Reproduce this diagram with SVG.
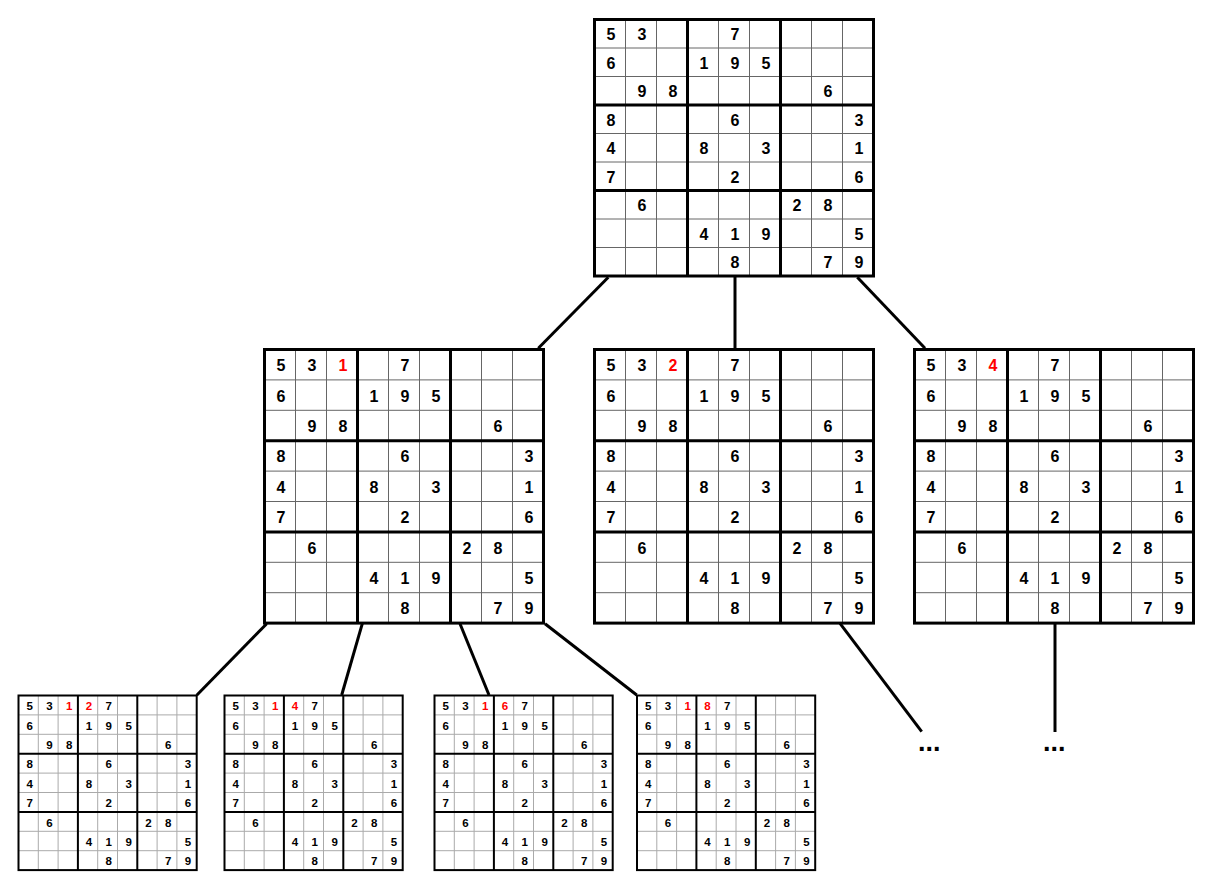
<svg xmlns="http://www.w3.org/2000/svg" width="1217" height="891" viewBox="0 0 1217 891">
<style>
.bg{fill:#fff}
.thin{stroke:#666;stroke-width:1;fill:none}
.thick{stroke:#000;stroke-width:3;fill:none}
.outer{stroke:#000;stroke-width:3;fill:none}
.sthin{stroke:#aaa;stroke-width:1;fill:none}
.sthick{stroke:#000;stroke-width:2;fill:none}
.conn{stroke:#000;stroke-width:3;fill:none}
text{font-family:"Liberation Sans",Arial,sans-serif;font-weight:bold;text-anchor:middle;fill:#000}
.b text{font-size:16px}
.s text{font-size:11.5px}
text.r{fill:#f00}
.dots{font-size:27px}
</style>
<rect width="1217" height="891" fill="#fff"/>
<g id="connectors">
<path class="conn" d="M608.3,277.3 L538.3,348.3"/>
<path class="conn" d="M735,277 L735,349"/>
<path class="conn" d="M857.3,277.3 L925,348.3"/>
<path class="conn" d="M266.7,623.7 L196.7,695.3"/>
<path class="conn" d="M362.3,623.7 L341.7,695"/>
<path class="conn" d="M460,623.7 L489,695"/>
<path class="conn" d="M545,623.7 L636.7,695"/>
<path class="conn" d="M840,623.3 L921.7,731.7"/>
<path class="conn" d="M1055,623.3 L1055,732"/>
</g>
<g id="root" class="b" transform="translate(594.5,19.5)">
<rect class="bg" width="279" height="256.5"/>
<path class="thin" d="M31,0V256.5M62,0V256.5M124,0V256.5M155,0V256.5M217,0V256.5M248,0V256.5M0,28.5H279M0,57H279M0,114H279M0,142.5H279M0,199.5H279M0,228H279"/>
<path class="thick" d="M93,0V256.5M186,0V256.5M0,85.5H279M0,171H279"/>
<rect class="outer" width="279" height="256.5"/>
<text x="16.5" y="20.8">5</text><text x="47.5" y="20.8">3</text><text x="140.5" y="20.8">7</text>
<text x="16.5" y="49.3">6</text><text x="109.5" y="49.3">1</text><text x="140.5" y="49.3">9</text><text x="171.5" y="49.3">5</text>
<text x="47.5" y="77.8">9</text><text x="78.5" y="77.8">8</text><text x="233.5" y="77.8">6</text>
<text x="16.5" y="106.3">8</text><text x="140.5" y="106.3">6</text><text x="264.5" y="106.3">3</text>
<text x="16.5" y="134.8">4</text><text x="109.5" y="134.8">8</text><text x="171.5" y="134.8">3</text><text x="264.5" y="134.8">1</text>
<text x="16.5" y="163.3">7</text><text x="140.5" y="163.3">2</text><text x="264.5" y="163.3">6</text>
<text x="47.5" y="191.8">6</text><text x="202.5" y="191.8">2</text><text x="233.5" y="191.8">8</text>
<text x="109.5" y="220.3">4</text><text x="140.5" y="220.3">1</text><text x="171.5" y="220.3">9</text><text x="264.5" y="220.3">5</text>
<text x="140.5" y="248.8">8</text><text x="233.5" y="248.8">7</text><text x="264.5" y="248.8">9</text>
</g>
<g id="mid-1" class="b" transform="translate(264.5,349.5)">
<rect class="bg" width="279" height="273.6"/>
<path class="thin" d="M31,0V273.6M62,0V273.6M124,0V273.6M155,0V273.6M217,0V273.6M248,0V273.6M0,30.4H279M0,60.8H279M0,121.6H279M0,152H279M0,212.8H279M0,243.2H279"/>
<path class="thick" d="M93,0V273.6M186,0V273.6M0,91.2H279M0,182.4H279"/>
<rect class="outer" width="279" height="273.6"/>
<text x="16.5" y="21.7">5</text><text x="47.5" y="21.7">3</text><text class="r" x="78.5" y="21.7">1</text><text x="140.5" y="21.7">7</text>
<text x="16.5" y="52.1">6</text><text x="109.5" y="52.1">1</text><text x="140.5" y="52.1">9</text><text x="171.5" y="52.1">5</text>
<text x="47.5" y="82.5">9</text><text x="78.5" y="82.5">8</text><text x="233.5" y="82.5">6</text>
<text x="16.5" y="112.9">8</text><text x="140.5" y="112.9">6</text><text x="264.5" y="112.9">3</text>
<text x="16.5" y="143.3">4</text><text x="109.5" y="143.3">8</text><text x="171.5" y="143.3">3</text><text x="264.5" y="143.3">1</text>
<text x="16.5" y="173.7">7</text><text x="140.5" y="173.7">2</text><text x="264.5" y="173.7">6</text>
<text x="47.5" y="204.1">6</text><text x="202.5" y="204.1">2</text><text x="233.5" y="204.1">8</text>
<text x="109.5" y="234.5">4</text><text x="140.5" y="234.5">1</text><text x="171.5" y="234.5">9</text><text x="264.5" y="234.5">5</text>
<text x="140.5" y="264.9">8</text><text x="233.5" y="264.9">7</text><text x="264.5" y="264.9">9</text>
</g>
<g id="mid-2" class="b" transform="translate(594.5,349.5)">
<rect class="bg" width="279" height="273.6"/>
<path class="thin" d="M31,0V273.6M62,0V273.6M124,0V273.6M155,0V273.6M217,0V273.6M248,0V273.6M0,30.4H279M0,60.8H279M0,121.6H279M0,152H279M0,212.8H279M0,243.2H279"/>
<path class="thick" d="M93,0V273.6M186,0V273.6M0,91.2H279M0,182.4H279"/>
<rect class="outer" width="279" height="273.6"/>
<text x="16.5" y="21.7">5</text><text x="47.5" y="21.7">3</text><text class="r" x="78.5" y="21.7">2</text><text x="140.5" y="21.7">7</text>
<text x="16.5" y="52.1">6</text><text x="109.5" y="52.1">1</text><text x="140.5" y="52.1">9</text><text x="171.5" y="52.1">5</text>
<text x="47.5" y="82.5">9</text><text x="78.5" y="82.5">8</text><text x="233.5" y="82.5">6</text>
<text x="16.5" y="112.9">8</text><text x="140.5" y="112.9">6</text><text x="264.5" y="112.9">3</text>
<text x="16.5" y="143.3">4</text><text x="109.5" y="143.3">8</text><text x="171.5" y="143.3">3</text><text x="264.5" y="143.3">1</text>
<text x="16.5" y="173.7">7</text><text x="140.5" y="173.7">2</text><text x="264.5" y="173.7">6</text>
<text x="47.5" y="204.1">6</text><text x="202.5" y="204.1">2</text><text x="233.5" y="204.1">8</text>
<text x="109.5" y="234.5">4</text><text x="140.5" y="234.5">1</text><text x="171.5" y="234.5">9</text><text x="264.5" y="234.5">5</text>
<text x="140.5" y="264.9">8</text><text x="233.5" y="264.9">7</text><text x="264.5" y="264.9">9</text>
</g>
<g id="mid-3" class="b" transform="translate(914.5,349.5)">
<rect class="bg" width="279" height="273.6"/>
<path class="thin" d="M31,0V273.6M62,0V273.6M124,0V273.6M155,0V273.6M217,0V273.6M248,0V273.6M0,30.4H279M0,60.8H279M0,121.6H279M0,152H279M0,212.8H279M0,243.2H279"/>
<path class="thick" d="M93,0V273.6M186,0V273.6M0,91.2H279M0,182.4H279"/>
<rect class="outer" width="279" height="273.6"/>
<text x="16.5" y="21.7">5</text><text x="47.5" y="21.7">3</text><text class="r" x="78.5" y="21.7">4</text><text x="140.5" y="21.7">7</text>
<text x="16.5" y="52.1">6</text><text x="109.5" y="52.1">1</text><text x="140.5" y="52.1">9</text><text x="171.5" y="52.1">5</text>
<text x="47.5" y="82.5">9</text><text x="78.5" y="82.5">8</text><text x="233.5" y="82.5">6</text>
<text x="16.5" y="112.9">8</text><text x="140.5" y="112.9">6</text><text x="264.5" y="112.9">3</text>
<text x="16.5" y="143.3">4</text><text x="109.5" y="143.3">8</text><text x="171.5" y="143.3">3</text><text x="264.5" y="143.3">1</text>
<text x="16.5" y="173.7">7</text><text x="140.5" y="173.7">2</text><text x="264.5" y="173.7">6</text>
<text x="47.5" y="204.1">6</text><text x="202.5" y="204.1">2</text><text x="233.5" y="204.1">8</text>
<text x="109.5" y="234.5">4</text><text x="140.5" y="234.5">1</text><text x="171.5" y="234.5">9</text><text x="264.5" y="234.5">5</text>
<text x="140.5" y="264.9">8</text><text x="233.5" y="264.9">7</text><text x="264.5" y="264.9">9</text>
</g>
<g id="leaf-1" class="s" transform="translate(18.5,695.5)">
<rect class="bg" width="178.2" height="174.6"/>
<path class="sthin" d="M19.8,0V174.6M39.6,0V174.6M79.2,0V174.6M99,0V174.6M138.6,0V174.6M158.4,0V174.6M0,19.4H178.2M0,38.8H178.2M0,77.6H178.2M0,97H178.2M0,135.8H178.2M0,155.2H178.2"/>
<path class="sthick" d="M59.4,0V174.6M118.8,0V174.6M0,58.2H178.2M0,116.4H178.2"/>
<rect class="sthick" width="178.2" height="174.6"/>
<text x="11.1" y="14.7">5</text><text x="30.9" y="14.7">3</text><text class="r" x="50.7" y="14.7">1</text><text class="r" x="70.5" y="14.7">2</text><text x="90.3" y="14.7">7</text>
<text x="11.1" y="34.1">6</text><text x="70.5" y="34.1">1</text><text x="90.3" y="34.1">9</text><text x="110.1" y="34.1">5</text>
<text x="30.9" y="53.5">9</text><text x="50.7" y="53.5">8</text><text x="149.7" y="53.5">6</text>
<text x="11.1" y="72.9">8</text><text x="90.3" y="72.9">6</text><text x="169.5" y="72.9">3</text>
<text x="11.1" y="92.3">4</text><text x="70.5" y="92.3">8</text><text x="110.1" y="92.3">3</text><text x="169.5" y="92.3">1</text>
<text x="11.1" y="111.7">7</text><text x="90.3" y="111.7">2</text><text x="169.5" y="111.7">6</text>
<text x="30.9" y="131.1">6</text><text x="129.9" y="131.1">2</text><text x="149.7" y="131.1">8</text>
<text x="70.5" y="150.5">4</text><text x="90.3" y="150.5">1</text><text x="110.1" y="150.5">9</text><text x="169.5" y="150.5">5</text>
<text x="90.3" y="169.9">8</text><text x="149.7" y="169.9">7</text><text x="169.5" y="169.9">9</text>
</g>
<g id="leaf-2" class="s" transform="translate(224.5,695.5)">
<rect class="bg" width="178.2" height="174.6"/>
<path class="sthin" d="M19.8,0V174.6M39.6,0V174.6M79.2,0V174.6M99,0V174.6M138.6,0V174.6M158.4,0V174.6M0,19.4H178.2M0,38.8H178.2M0,77.6H178.2M0,97H178.2M0,135.8H178.2M0,155.2H178.2"/>
<path class="sthick" d="M59.4,0V174.6M118.8,0V174.6M0,58.2H178.2M0,116.4H178.2"/>
<rect class="sthick" width="178.2" height="174.6"/>
<text x="11.1" y="14.7">5</text><text x="30.9" y="14.7">3</text><text class="r" x="50.7" y="14.7">1</text><text class="r" x="70.5" y="14.7">4</text><text x="90.3" y="14.7">7</text>
<text x="11.1" y="34.1">6</text><text x="70.5" y="34.1">1</text><text x="90.3" y="34.1">9</text><text x="110.1" y="34.1">5</text>
<text x="30.9" y="53.5">9</text><text x="50.7" y="53.5">8</text><text x="149.7" y="53.5">6</text>
<text x="11.1" y="72.9">8</text><text x="90.3" y="72.9">6</text><text x="169.5" y="72.9">3</text>
<text x="11.1" y="92.3">4</text><text x="70.5" y="92.3">8</text><text x="110.1" y="92.3">3</text><text x="169.5" y="92.3">1</text>
<text x="11.1" y="111.7">7</text><text x="90.3" y="111.7">2</text><text x="169.5" y="111.7">6</text>
<text x="30.9" y="131.1">6</text><text x="129.9" y="131.1">2</text><text x="149.7" y="131.1">8</text>
<text x="70.5" y="150.5">4</text><text x="90.3" y="150.5">1</text><text x="110.1" y="150.5">9</text><text x="169.5" y="150.5">5</text>
<text x="90.3" y="169.9">8</text><text x="149.7" y="169.9">7</text><text x="169.5" y="169.9">9</text>
</g>
<g id="leaf-3" class="s" transform="translate(434.5,695.5)">
<rect class="bg" width="178.2" height="174.6"/>
<path class="sthin" d="M19.8,0V174.6M39.6,0V174.6M79.2,0V174.6M99,0V174.6M138.6,0V174.6M158.4,0V174.6M0,19.4H178.2M0,38.8H178.2M0,77.6H178.2M0,97H178.2M0,135.8H178.2M0,155.2H178.2"/>
<path class="sthick" d="M59.4,0V174.6M118.8,0V174.6M0,58.2H178.2M0,116.4H178.2"/>
<rect class="sthick" width="178.2" height="174.6"/>
<text x="11.1" y="14.7">5</text><text x="30.9" y="14.7">3</text><text class="r" x="50.7" y="14.7">1</text><text class="r" x="70.5" y="14.7">6</text><text x="90.3" y="14.7">7</text>
<text x="11.1" y="34.1">6</text><text x="70.5" y="34.1">1</text><text x="90.3" y="34.1">9</text><text x="110.1" y="34.1">5</text>
<text x="30.9" y="53.5">9</text><text x="50.7" y="53.5">8</text><text x="149.7" y="53.5">6</text>
<text x="11.1" y="72.9">8</text><text x="90.3" y="72.9">6</text><text x="169.5" y="72.9">3</text>
<text x="11.1" y="92.3">4</text><text x="70.5" y="92.3">8</text><text x="110.1" y="92.3">3</text><text x="169.5" y="92.3">1</text>
<text x="11.1" y="111.7">7</text><text x="90.3" y="111.7">2</text><text x="169.5" y="111.7">6</text>
<text x="30.9" y="131.1">6</text><text x="129.9" y="131.1">2</text><text x="149.7" y="131.1">8</text>
<text x="70.5" y="150.5">4</text><text x="90.3" y="150.5">1</text><text x="110.1" y="150.5">9</text><text x="169.5" y="150.5">5</text>
<text x="90.3" y="169.9">8</text><text x="149.7" y="169.9">7</text><text x="169.5" y="169.9">9</text>
</g>
<g id="leaf-4" class="s" transform="translate(637,695.5)">
<rect class="bg" width="178.2" height="174.6"/>
<path class="sthin" d="M19.8,0V174.6M39.6,0V174.6M79.2,0V174.6M99,0V174.6M138.6,0V174.6M158.4,0V174.6M0,19.4H178.2M0,38.8H178.2M0,77.6H178.2M0,97H178.2M0,135.8H178.2M0,155.2H178.2"/>
<path class="sthick" d="M59.4,0V174.6M118.8,0V174.6M0,58.2H178.2M0,116.4H178.2"/>
<rect class="sthick" width="178.2" height="174.6"/>
<text x="11.1" y="14.7">5</text><text x="30.9" y="14.7">3</text><text class="r" x="50.7" y="14.7">1</text><text class="r" x="70.5" y="14.7">8</text><text x="90.3" y="14.7">7</text>
<text x="11.1" y="34.1">6</text><text x="70.5" y="34.1">1</text><text x="90.3" y="34.1">9</text><text x="110.1" y="34.1">5</text>
<text x="30.9" y="53.5">9</text><text x="50.7" y="53.5">8</text><text x="149.7" y="53.5">6</text>
<text x="11.1" y="72.9">8</text><text x="90.3" y="72.9">6</text><text x="169.5" y="72.9">3</text>
<text x="11.1" y="92.3">4</text><text x="70.5" y="92.3">8</text><text x="110.1" y="92.3">3</text><text x="169.5" y="92.3">1</text>
<text x="11.1" y="111.7">7</text><text x="90.3" y="111.7">2</text><text x="169.5" y="111.7">6</text>
<text x="30.9" y="131.1">6</text><text x="129.9" y="131.1">2</text><text x="149.7" y="131.1">8</text>
<text x="70.5" y="150.5">4</text><text x="90.3" y="150.5">1</text><text x="110.1" y="150.5">9</text><text x="169.5" y="150.5">5</text>
<text x="90.3" y="169.9">8</text><text x="149.7" y="169.9">7</text><text x="169.5" y="169.9">9</text>
</g>
<g id="more-1"><text class="dots" x="929.2" y="750.7">...</text></g>
<g id="more-2"><text class="dots" x="1054.2" y="750.7">...</text></g>
</svg>
